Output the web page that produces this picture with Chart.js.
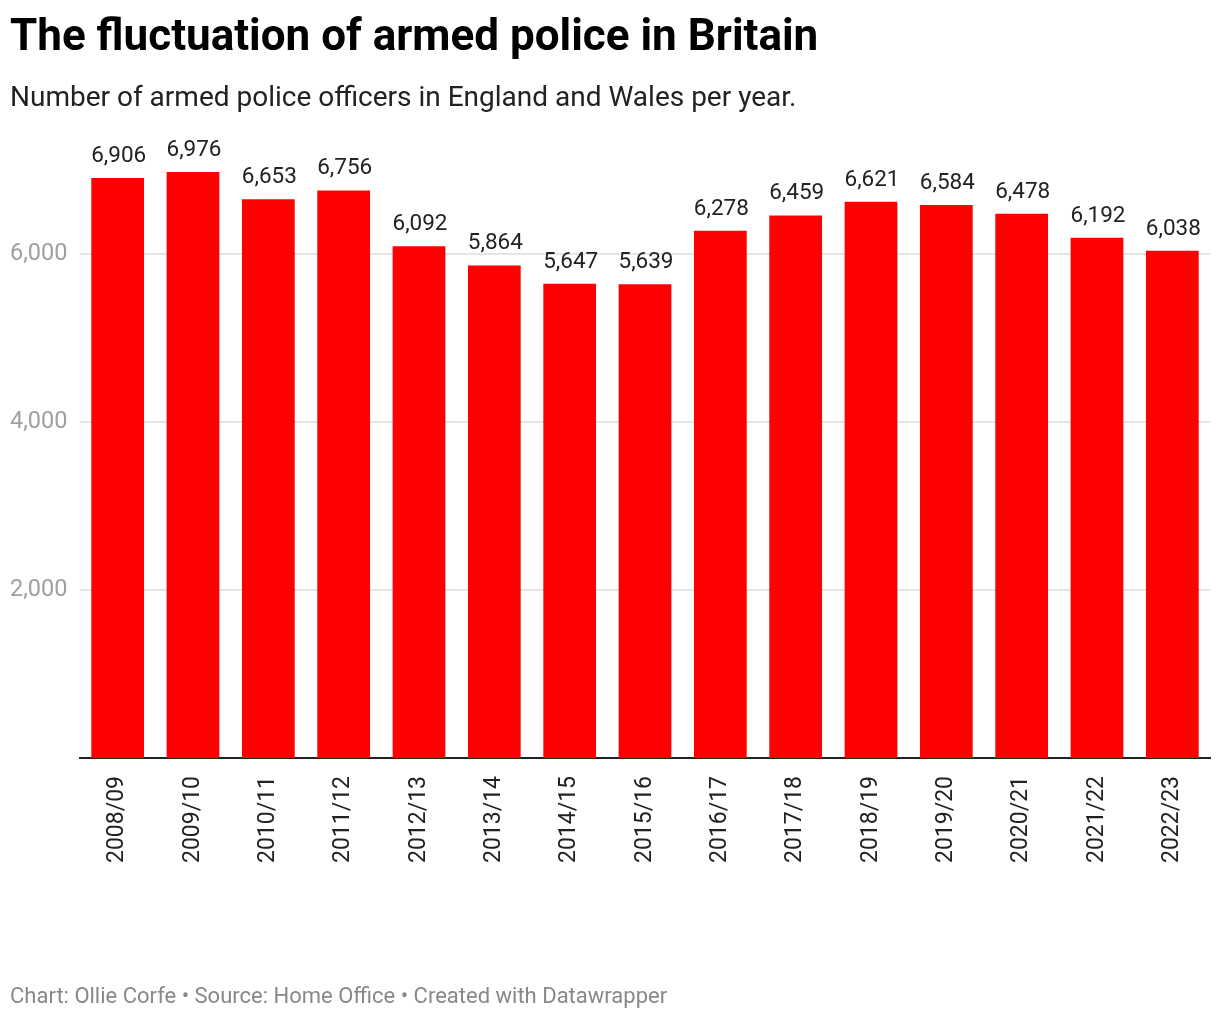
<!DOCTYPE html>
<html>
<head>
<meta charset="utf-8">
<script src="https://cdn.jsdelivr.net/npm/chart.js@4"></script>
<style>
  html, body { margin: 0; padding: 0; background: #fff; width: 1220px; height: 1020px; overflow: hidden; }
  #wrap { position: relative; width: 1220px; height: 1020px; font-family: Roboto, sans-serif; }
  canvas { position: absolute; left: 0; top: 0; }
  .t { position: absolute; left: 10px; white-space: nowrap; }
  #title { top: 9px; font-size: 44px; font-weight: 700; color: #000; }
  #sub { top: 80px; font-size: 28px; color: #222; }
  #foot { top: 983px; font-size: 22px; color: #888; }
</style>
</head>
<body>
<div id="wrap">
  <canvas id="c" width="1220" height="1020"></canvas>
  <div class="t" id="title">The fluctuation of armed police in Britain</div>
  <div class="t" id="sub">Number of armed police officers in England and Wales per year.</div>
  <div class="t" id="foot">Chart: Ollie Corfe • Source: Home Office • Created with Datawrapper</div>
</div>
<script>
const categories = ["2008/09","2009/10","2010/11","2011/12","2012/13","2013/14","2014/15","2015/16","2016/17","2017/18","2018/19","2019/20","2020/21","2021/22","2022/23"];
const officers = [6906, 6976, 6653, 6756, 6092, 5864, 5647, 5639, 6278, 6459, 6621, 6584, 6478, 6192, 6038];
const yTicks = [2000, 4000, 6000];

const fmt = v => Number(v).toLocaleString('en-US');

const valueLabels = {
  id: 'valueLabels',
  afterDatasetsDraw(chart) {
    const ctx = chart.ctx;
    const meta = chart.getDatasetMeta(0);
    ctx.save();
    ctx.font = '22.5px Roboto, sans-serif';
    ctx.fillStyle = '#222';
    ctx.textAlign = 'center';
    ctx.textBaseline = 'alphabetic';
    meta.data.forEach((bar, i) => {
      ctx.fillText(fmt(chart.data.datasets[0].data[i]), bar.x + 1, bar.y - 16);
    });
    ctx.restore();
  }
};

new Chart(document.getElementById('c'), {
  type: 'bar',
  data: {
    labels: categories,
    datasets: [{
      data: officers,
      backgroundColor: '#ff0000',
      borderWidth: 0,
      barPercentage: 0.7,
      categoryPercentage: 1.0
    }]
  },
  options: {
    responsive: false,
    animation: false,
    devicePixelRatio: 1,
    layout: { padding: { left: 10, right: 10, top: 170, bottom: 0 } },
    plugins: { legend: { display: false }, tooltip: { enabled: false } },
    scales: {
      x: {
        grid: { display: false },
        border: { display: true, color: '#222', width: 2 },
        ticks: {
          minRotation: 90, maxRotation: 90,
          color: '#222',
          font: { family: 'Roboto', size: 23 },
          padding: 10
        },
        afterFit(scale) { scale.height = 262; }
      },
      y: {
        min: 0, max: 7000,
        border: { display: false },
        grid: {
          drawTicks: false,
          color: '#e5e5e5',
          lineWidth: 2
        },
        ticks: {
          color: '#a0a0a0',
          font: { family: 'Roboto', size: 23.5 },
          crossAlign: 'far',
          padding: 0,
          callback: v => fmt(v)
        },
        afterBuildTicks(scale) { scale.ticks = yTicks.map(value => ({ value })); },
        afterFit(scale) { scale.width = 70; }
      }
    }
  },
  plugins: [valueLabels]
});
</script>
</body>
</html>
